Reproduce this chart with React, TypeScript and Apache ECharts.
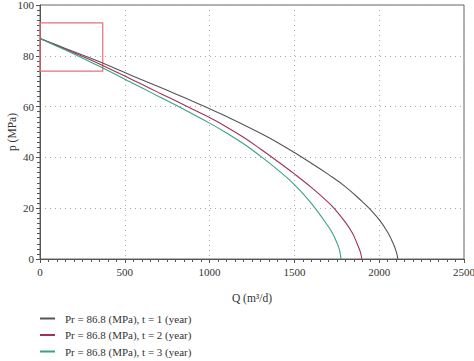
import React, { useEffect, useRef } from "react";
import * as echarts from "echarts";

const seriesNames = [
  "Pr = 86.8 (MPa), t = 1 (year)",
  "Pr = 86.8 (MPa), t = 2 (year)",
  "Pr = 86.8 (MPa), t = 3 (year)",
];
const seriesColors = ["#555555", "#9e3450", "#3aa37e"];

const q1 = [0, 100, 200, 300, 400, 500, 600, 700, 800, 900, 1000, 1100, 1200, 1300, 1400, 1500, 1600, 1700, 1800, 1900, 1940, 2000, 2050, 2080, 2100, 2110];
const p1 = [86.8, 84.2, 81.6, 79.0, 76.3, 73.4, 70.6, 67.8, 65.0, 62.1, 59.2, 56.1, 52.9, 49.5, 45.9, 41.9, 37.7, 33.3, 28.5, 22.6, 20.0, 15.5, 10.5, 6.5, 3.0, 0];

const q2 = [0, 100, 200, 300, 400, 500, 600, 700, 800, 900, 1000, 1100, 1200, 1300, 1400, 1500, 1600, 1700, 1733, 1800, 1842, 1870, 1890, 1897];
const p2 = [86.8, 84.0, 81.2, 78.3, 75.2, 72.0, 68.8, 65.5, 62.3, 59.0, 55.7, 52.0, 47.9, 43.3, 38.5, 33.5, 28.2, 22.3, 20.0, 14.5, 10.2, 6.0, 2.5, 0];

const q3 = [0, 100, 200, 300, 400, 500, 600, 700, 800, 900, 1000, 1100, 1200, 1300, 1400, 1500, 1600, 1700, 1724, 1750, 1765, 1775];
const p3 = [86.8, 83.8, 80.7, 77.5, 74.2, 70.8, 67.4, 64.0, 60.6, 57.1, 53.5, 49.6, 45.4, 40.5, 35.2, 29.3, 21.9, 12.8, 10.2, 6.5, 3.8, 0];

const zoomBoxQ = [0, 370];
const zoomBoxP = [93, 74];

const font = "Liberation Serif";

export default function App() {
  const ref = useRef<HTMLDivElement>(null);
  useEffect(() => {
    if (!ref.current) return;
    const chart = echarts.init(ref.current, null, { renderer: "svg" });
    const qs = [q1, q2, q3];
    const ps = [p1, p2, p3];
    const series: any[] = seriesNames.map((name, i) => ({
      name,
      type: "line",
      data: qs[i].map((q, j) => [q, ps[i][j]]),
      showSymbol: false,
      smooth: 0.4,
      lineStyle: { color: seriesColors[i], width: 1.1 },
      itemStyle: { color: seriesColors[i] },
      z: 3,
    }));
    series[0].markArea = {
      silent: true,
      itemStyle: { color: "rgba(0,0,0,0)", borderColor: "#e8707c", borderWidth: 1.2 },
      data: [[{ coord: [zoomBoxQ[0], zoomBoxP[0]] }, { coord: [zoomBoxQ[1], zoomBoxP[1]] }]],
    };
    chart.setOption({
      animation: false,
      backgroundColor: "#ffffff",
      textStyle: { fontFamily: font },
      grid: {
        left: 40, right: 10, top: 5, bottom: 102,
        show: true, borderColor: "#666", borderWidth: 1,
        containLabel: false, outerBoundsMode: "none",
      },
      xAxis: {
        type: "value",
        min: 0,
        max: 2500,
        interval: 500,
        name: "Q (m³/d)",
        nameLocation: "middle",
        nameGap: 33,
        nameMoveOverlap: false,
        nameTextStyle: { fontFamily: font, fontSize: 11.5, color: "#333" },
        axisLine: { lineStyle: { color: "#555" } },
        axisTick: { length: 4, lineStyle: { color: "#555" } },
        minorTick: { show: true, splitNumber: 10, length: 3, lineStyle: { color: "#555" } },
        axisLabel: { fontFamily: font, fontSize: 11, color: "#333", margin: 7, formatter: (v: number) => String(v) },
        splitLine: { show: true, lineStyle: { color: "#aaa", type: [1, 4] } },
      },
      yAxis: {
        type: "value",
        min: 0,
        max: 100,
        interval: 20,
        name: "p (MPa)",
        nameLocation: "middle",
        nameGap: 22,
        nameMoveOverlap: false,
        nameTextStyle: { fontFamily: font, fontSize: 11.5, color: "#333" },
        axisLine: { show: true, lineStyle: { color: "#555" } },
        axisTick: { show: true, length: 4, lineStyle: { color: "#555" } },
        minorTick: { show: true, splitNumber: 10, length: 3, lineStyle: { color: "#555" } },
        axisLabel: { fontFamily: font, fontSize: 11, color: "#333", margin: 6, formatter: (v: number) => String(v) },
        splitLine: { show: true, lineStyle: { color: "#aaa", type: [1, 4] } },
      },
      legend: {
        orient: "vertical",
        left: 40,
        top: 313,
        padding: 0,
        height: 60,
        itemWidth: 15,
        itemHeight: 2,
        itemGap: 5.5,
        icon: "rect",
        textStyle: { fontFamily: font, fontSize: 11, color: "#333", padding: [0, 0, 0, 5] },
        data: seriesNames,
      },
      series,
    });
    return () => chart.dispose();
  }, []);
  return <div ref={ref} style={{ width: 474, height: 361, position: "absolute", left: 0, top: 0 }} />;
}
